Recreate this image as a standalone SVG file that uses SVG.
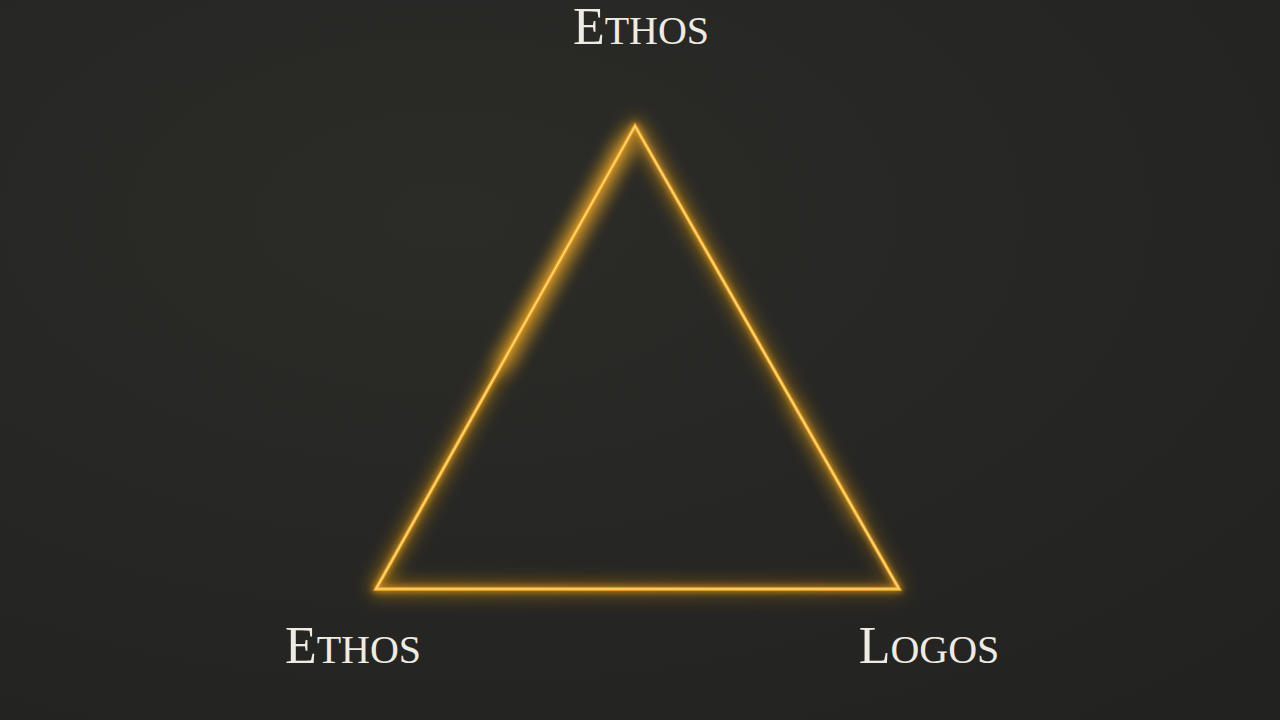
<svg xmlns="http://www.w3.org/2000/svg" width="1280" height="720" viewBox="0 0 1280 720">
<style>
.lbl{font-family:"Liberation Serif","Times New Roman",serif;fill:#eeebe2}
.big{font-size:52px}
.sm{font-size:40px}
</style>
<defs>
<radialGradient id="bg" cx="0.35" cy="0.3" r="0.9">
<stop offset="0" stop-color="#2b2b28"/>
<stop offset="1" stop-color="#222220"/>
</radialGradient>
<filter id="glow" x="-20%" y="-20%" width="140%" height="140%">
<feGaussianBlur stdDeviation="9"/>
</filter>
<filter id="glow2" x="-20%" y="-20%" width="140%" height="140%">
<feGaussianBlur stdDeviation="3"/>
</filter>
<linearGradient id="edgeGlow" x1="0" y1="0" x2="1" y2="1">
<stop offset="0" stop-color="#ffb21a" stop-opacity="0.85"/>
<stop offset="1" stop-color="#e89a10" stop-opacity="0.35"/>
</linearGradient>
</defs>
<rect width="1280" height="720" fill="url(#bg)"/>
<g id="connectors">
<polygon points="635,126 376,589 899,589" fill="none" stroke="url(#edgeGlow)" stroke-width="10" filter="url(#glow)" stroke-linejoin="round"/>
<line x1="628" y1="140" x2="500" y2="370" stroke="#ffb830" stroke-width="14" filter="url(#glow)" opacity="0.6"/>
<line x1="790" y1="400" x2="860" y2="525" stroke="#ffb830" stroke-width="8" filter="url(#glow)" opacity="0.35"/>
<polygon points="635,126 376,589 899,589" fill="none" stroke="#f0a420" stroke-width="5" filter="url(#glow2)" opacity="0.8"/>
<polygon points="635,126 376,589 899,589" fill="none" stroke="#f2ac28" stroke-width="3.5" stroke-linejoin="miter"/>
<polygon points="635,126 376,589 899,589" fill="none" stroke="#ffdf8a" stroke-width="1.2" stroke-linejoin="miter"/>
</g>
<g id="node-top">
<text class="lbl" x="641" y="44" text-anchor="middle"><tspan class="big">E</tspan><tspan class="sm">THOS</tspan></text>
</g>
<g id="node-left">
<text class="lbl" x="353" y="663" text-anchor="middle"><tspan class="big">E</tspan><tspan class="sm">THOS</tspan></text>
</g>
<g id="node-right">
<text class="lbl" x="929" y="663" text-anchor="middle"><tspan class="big">L</tspan><tspan class="sm">OGOS</tspan></text>
</g>
</svg>
